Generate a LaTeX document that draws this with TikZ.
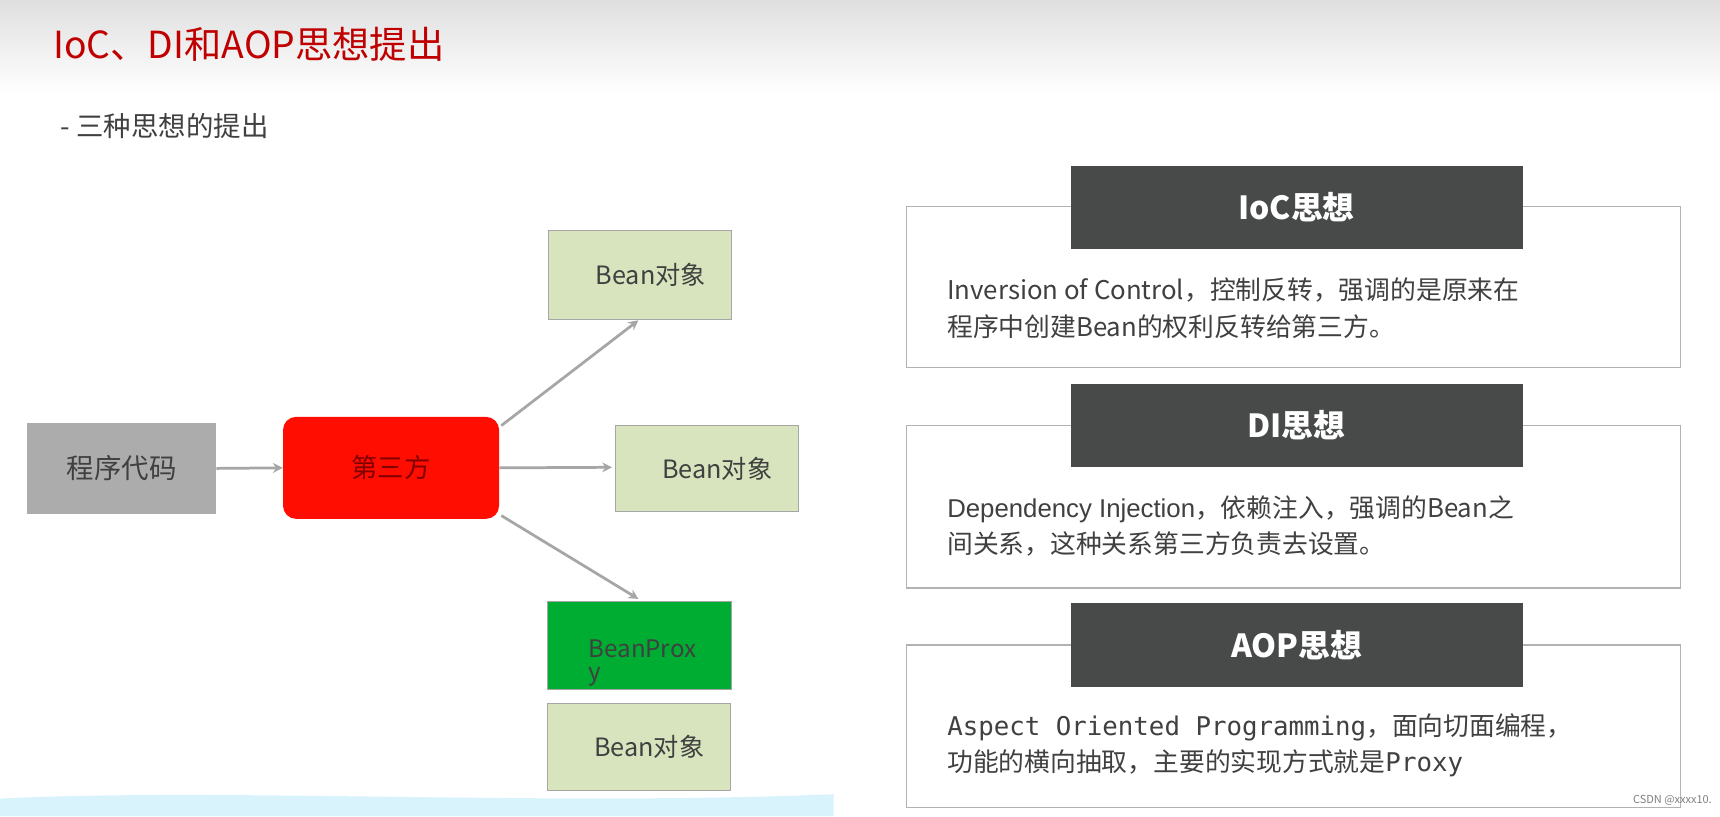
\documentclass[tikz,border=0pt]{standalone}
\usepackage{fontspec}
\setmainfont{Noto Sans CJK SC}
\newfontfamily\cjk{Noto Sans CJK SC}
\newfontfamily\monof{DejaVu Sans Mono}
\newfontfamily\arialf{Liberation Sans}
\usetikzlibrary{arrows.meta}
\definecolor{hdr}{HTML}{474A49}
\definecolor{beanc}{HTML}{D7E4BD}
\definecolor{ttl}{HTML}{C00000}
\definecolor{txt}{HTML}{404040}
\tikzset{
 fs/.style={font=\fontsize{#1}{#1}\selectfont},
 bean/.style={draw=gray!70,fill=beanc,minimum width=167pt,minimum height=81pt,fs=23,text=txt},
 arr/.style={draw=gray!70,line width=2.5pt,-{Stealth[length=9pt,width=9pt]}},
 panel/.style={draw=gray!60,line width=1pt,fill=white},
 head/.style={fill=hdr,text=white,minimum width=412pt,minimum height=76pt,font=\bfseries\fontsize{29}{29}\selectfont},
 ptext/.style={anchor=north west,align=left,text=txt,font=\fontsize{23.5}{33}\selectfont}
}
\begin{document}
\begin{tikzpicture}[x=1pt,y=-1pt]
\useasboundingbox (0,0) rectangle (1568,744);
\fill[white] (0,0) rectangle (1568,744);
\shade[top color=gray!25,bottom color=white] (0,0) rectangle (1568,85);
\fill[cyan!15] (0,728) .. controls (200,718) and (500,735) .. (760,724) -- (760,744) -- (0,744) -- cycle;
\node[anchor=west,text=ttl,fs=34] (title) at (45,40) {IoC、DI和AOP思想提出};
\node[anchor=west,text=txt,fs=25] (sub) at (52,115) {- 三种思想的提出};
% left diagram
\node[fill=gray!65,minimum width=172pt,minimum height=83pt,fs=25,text=txt] (code) at (111,427) {程序代码};
\node[fill=red!90!orange,rounded corners=12pt,minimum width=197pt,minimum height=93pt,fs=24,text=red!50!black] (third) at (356.5,426.5) {第三方};
\node[bean,text width=120pt,align=right] (b1) at (583.5,250.5) {Bean对象};
\node[bean,minimum height=78pt,text width=120pt,align=right] (b2) at (644,427) {Bean对象};
\node[draw=gray!70,fill=green!60!black!80!cyan,minimum width=168pt,minimum height=80pt] (proxy) at (583,588) {};
\node[anchor=north west,fs=22,text=txt,align=left] (ptxt) at (533,580) {BeanProx\\[-1pt]y};
\node[bean,minimum height=79pt,text width=120pt,align=right] (b3) at (582,680.5) {Bean对象};
\draw[arr] (code.east) -- (third.west);
\draw[arr] (457,388) -- (582,292);
\draw[arr] (third.east) -- (558,426);
\draw[arr] (457,470) -- (582,546);
% right panels
\node[panel,minimum width=706pt,minimum height=147pt] (p1) at (1179,261.5) {};
\node[head] (h1) at (1182,189) {IoC思想};
\node[ptext] (t1) at (860,250) {Inversion of Control，控制反转，强调的是原来在\\程序中创建Bean的权利反转给第三方。};
\node[panel,minimum width=706pt,minimum height=148pt] (p2) at (1179,462) {};
\node[head] (h2) at (1182,388) {DI思想};
\node[ptext] (t2) at (860,448) {{\arialf Dependency Injection}，依赖注入，强调的Bean之\\间关系，这种关系第三方负责去设置。};
\node[panel,minimum width=706pt,minimum height=148pt] (p3) at (1179,662) {};
\node[head] (h3) at (1182,588) {AOP思想};
\node[ptext] (t3) at (860,647) {{\monof Aspect Oriented Programming}，面向切面编程，\\功能的横向抽取，主要的实现方式就是{\monof Proxy}};
\node[anchor=south east,fs=10,text=gray] (wm) at (1564,738) {CSDN @xxxx10.};
\end{tikzpicture}
\end{document}
